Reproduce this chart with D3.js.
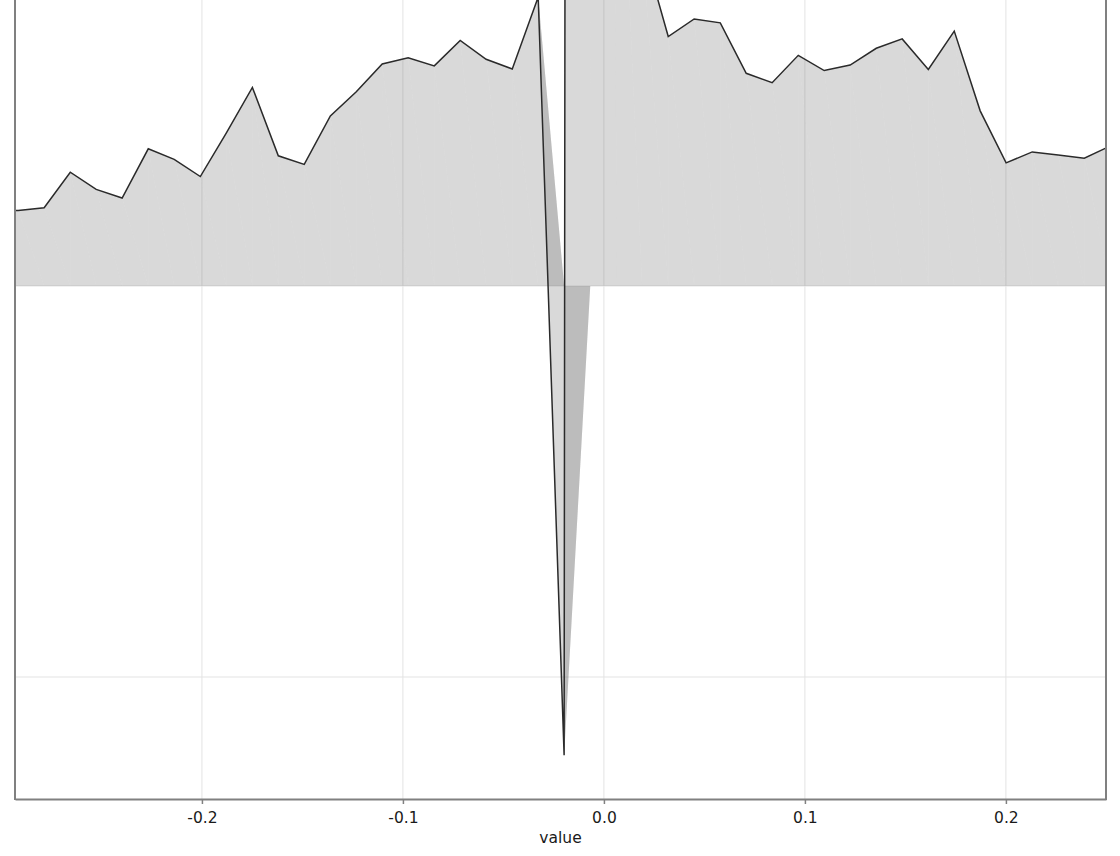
<!DOCTYPE html>
<html>
<head>
<meta charset="utf-8">
<script src="https://cdn.jsdelivr.net/npm/d3@7"></script>
<style>
  body { margin: 0; background: #fff; }
  text { font-family: "DejaVu Sans", sans-serif; }
</style>
</head>
<body>
<script>
// Sample positions on the value axis
const xValues = [
  -0.3043, -0.2914, -0.2785, -0.2655, -0.2526, -0.2397, -0.2267, -0.2138,
  -0.2008, -0.1879, -0.1749, -0.1620, -0.1491, -0.1361, -0.1232, -0.1103,
  -0.0974, -0.0844, -0.0715, -0.0586, -0.0456, -0.0327, -0.0198, -0.0068,
   0.0061,  0.0190,  0.0320,  0.0449,  0.0579,  0.0708,  0.0837,  0.0967,
   0.1096,  0.1225,  0.1355,  0.1484,  0.1614,  0.1743,  0.1872,  0.2001,
   0.2131,  0.2260,  0.2390,  0.2519
];

// Series values at those positions
const yValues = [
  0.196, 0.193, 0.200, 0.291, 0.247, 0.225, 0.351, 0.324,
  0.280, 0.391, 0.508, 0.333, 0.311, 0.435, 0.497, 0.568,
  0.584, 0.563, 0.628, 0.580, 0.555, 0.739, -1.200, 60.0,
  1.500, 0.875, 0.638, 0.683, 0.673, 0.544, 0.520, 0.590,
  0.551, 0.565, 0.608, 0.632, 0.554, 0.652, 0.448, 0.315,
  0.343, 0.335, 0.327, 0.358
];

const xTicks = [-0.2, -0.1, 0.0, 0.1, 0.2];
const xTickLabels = ["-0.2", "-0.1", "0.0", "0.1", "0.2"];
const yTicks = [-1, 0];

// 1. Canvas and plot box
const width = 1120, height = 856;
const plot = { left: 15, right: 1106, top: 0, bottom: 799 };

const svg = d3.select("body").append("svg")
    .attr("width", width)
    .attr("height", height);

// 2. Scales
const xScale = d3.scaleLinear()
    .domain([-0.2930, 0.2498])
    .range([plot.left, plot.right]);

const yScale = d3.scaleLinear()
    .domain([-1.3120, 0.7315])
    .range([plot.bottom, plot.top]);

svg.append("defs").append("clipPath")
    .attr("id", "clip")
    .append("rect")
    .attr("x", plot.left)
    .attr("y", plot.top)
    .attr("width", plot.right - plot.left)
    .attr("height", plot.bottom - plot.top);

// 3. Grid lines
const grid = svg.append("g").attr("stroke", "#e3e3e3").attr("stroke-width", 1);
grid.selectAll(".vgrid")
    .data(xTicks)
    .enter().append("line")
    .attr("x1", d => xScale(d)).attr("x2", d => xScale(d))
    .attr("y1", plot.top).attr("y2", plot.bottom);
grid.selectAll(".hgrid")
    .data(yTicks)
    .enter().append("line")
    .attr("x1", plot.left).attr("x2", plot.right)
    .attr("y1", d => yScale(d)).attr("y2", d => yScale(d));

// 4. Area fill, built as a triangle strip against the zero line
const pts = xValues.map((x, i) => [xScale(x), yScale(yValues[i])]);
const base = yScale(0);
const stripA = d3.path(), stripB = d3.path();
for (let i = 0; i < pts.length - 1; i++) {
    const [xa, ya] = pts[i], [xb, yb] = pts[i + 1];
    stripA.moveTo(xa, base); stripA.lineTo(xa, ya); stripA.lineTo(xb, base); stripA.closePath();
    stripB.moveTo(xa, ya); stripB.lineTo(xb, base); stripB.lineTo(xb, yb); stripB.closePath();
}

const body = svg.append("g").attr("clip-path", "url(#clip)");
[stripA, stripB].forEach(p => {
    body.append("path")
        .attr("d", p.toString())
        .attr("fill", "#666")
        .attr("fill-opacity", 0.25);
});

// 5. Line
const line = d3.line()
    .x((d, i) => xScale(xValues[i]))
    .y(d => yScale(d));

body.append("path")
    .datum(yValues)
    .attr("d", line)
    .attr("fill", "none")
    .attr("stroke", "#2a2a2a")
    .attr("stroke-width", 1.5)
    .attr("stroke-linejoin", "miter");

// 6. Axis and frame
const xAxis = svg.append("g")
    .attr("transform", "translate(0," + plot.bottom + ")")
    .call(d3.axisBottom(xScale)
        .tickValues(xTicks)
        .tickFormat((d, i) => xTickLabels[i])
        .tickSize(5)
        .tickSizeOuter(0)
        .tickPadding(8));
xAxis.select(".domain").attr("stroke", "#808080").attr("stroke-width", 2);
xAxis.selectAll(".tick line").attr("stroke", "#808080").attr("stroke-width", 1.5);
xAxis.selectAll(".tick text")
    .attr("fill", "#1a1a1a")
    .style("font-size", "15.5px")
    .style("font-family", "DejaVu Sans, sans-serif");

svg.append("line")
    .attr("x1", plot.left).attr("x2", plot.left)
    .attr("y1", plot.top).attr("y2", plot.bottom + 1)
    .attr("stroke", "#808080").attr("stroke-width", 2);
svg.append("line")
    .attr("x1", plot.right).attr("x2", plot.right)
    .attr("y1", plot.top).attr("y2", plot.bottom + 1)
    .attr("stroke", "#808080").attr("stroke-width", 2);

// 7. Axis title
svg.append("text")
    .attr("x", (plot.left + plot.right) / 2)
    .attr("y", 843)
    .style("text-anchor", "middle")
    .style("font-size", "15.5px")
    .attr("fill", "#1a1a1a")
    .text("value");
</script>
</body>
</html>
